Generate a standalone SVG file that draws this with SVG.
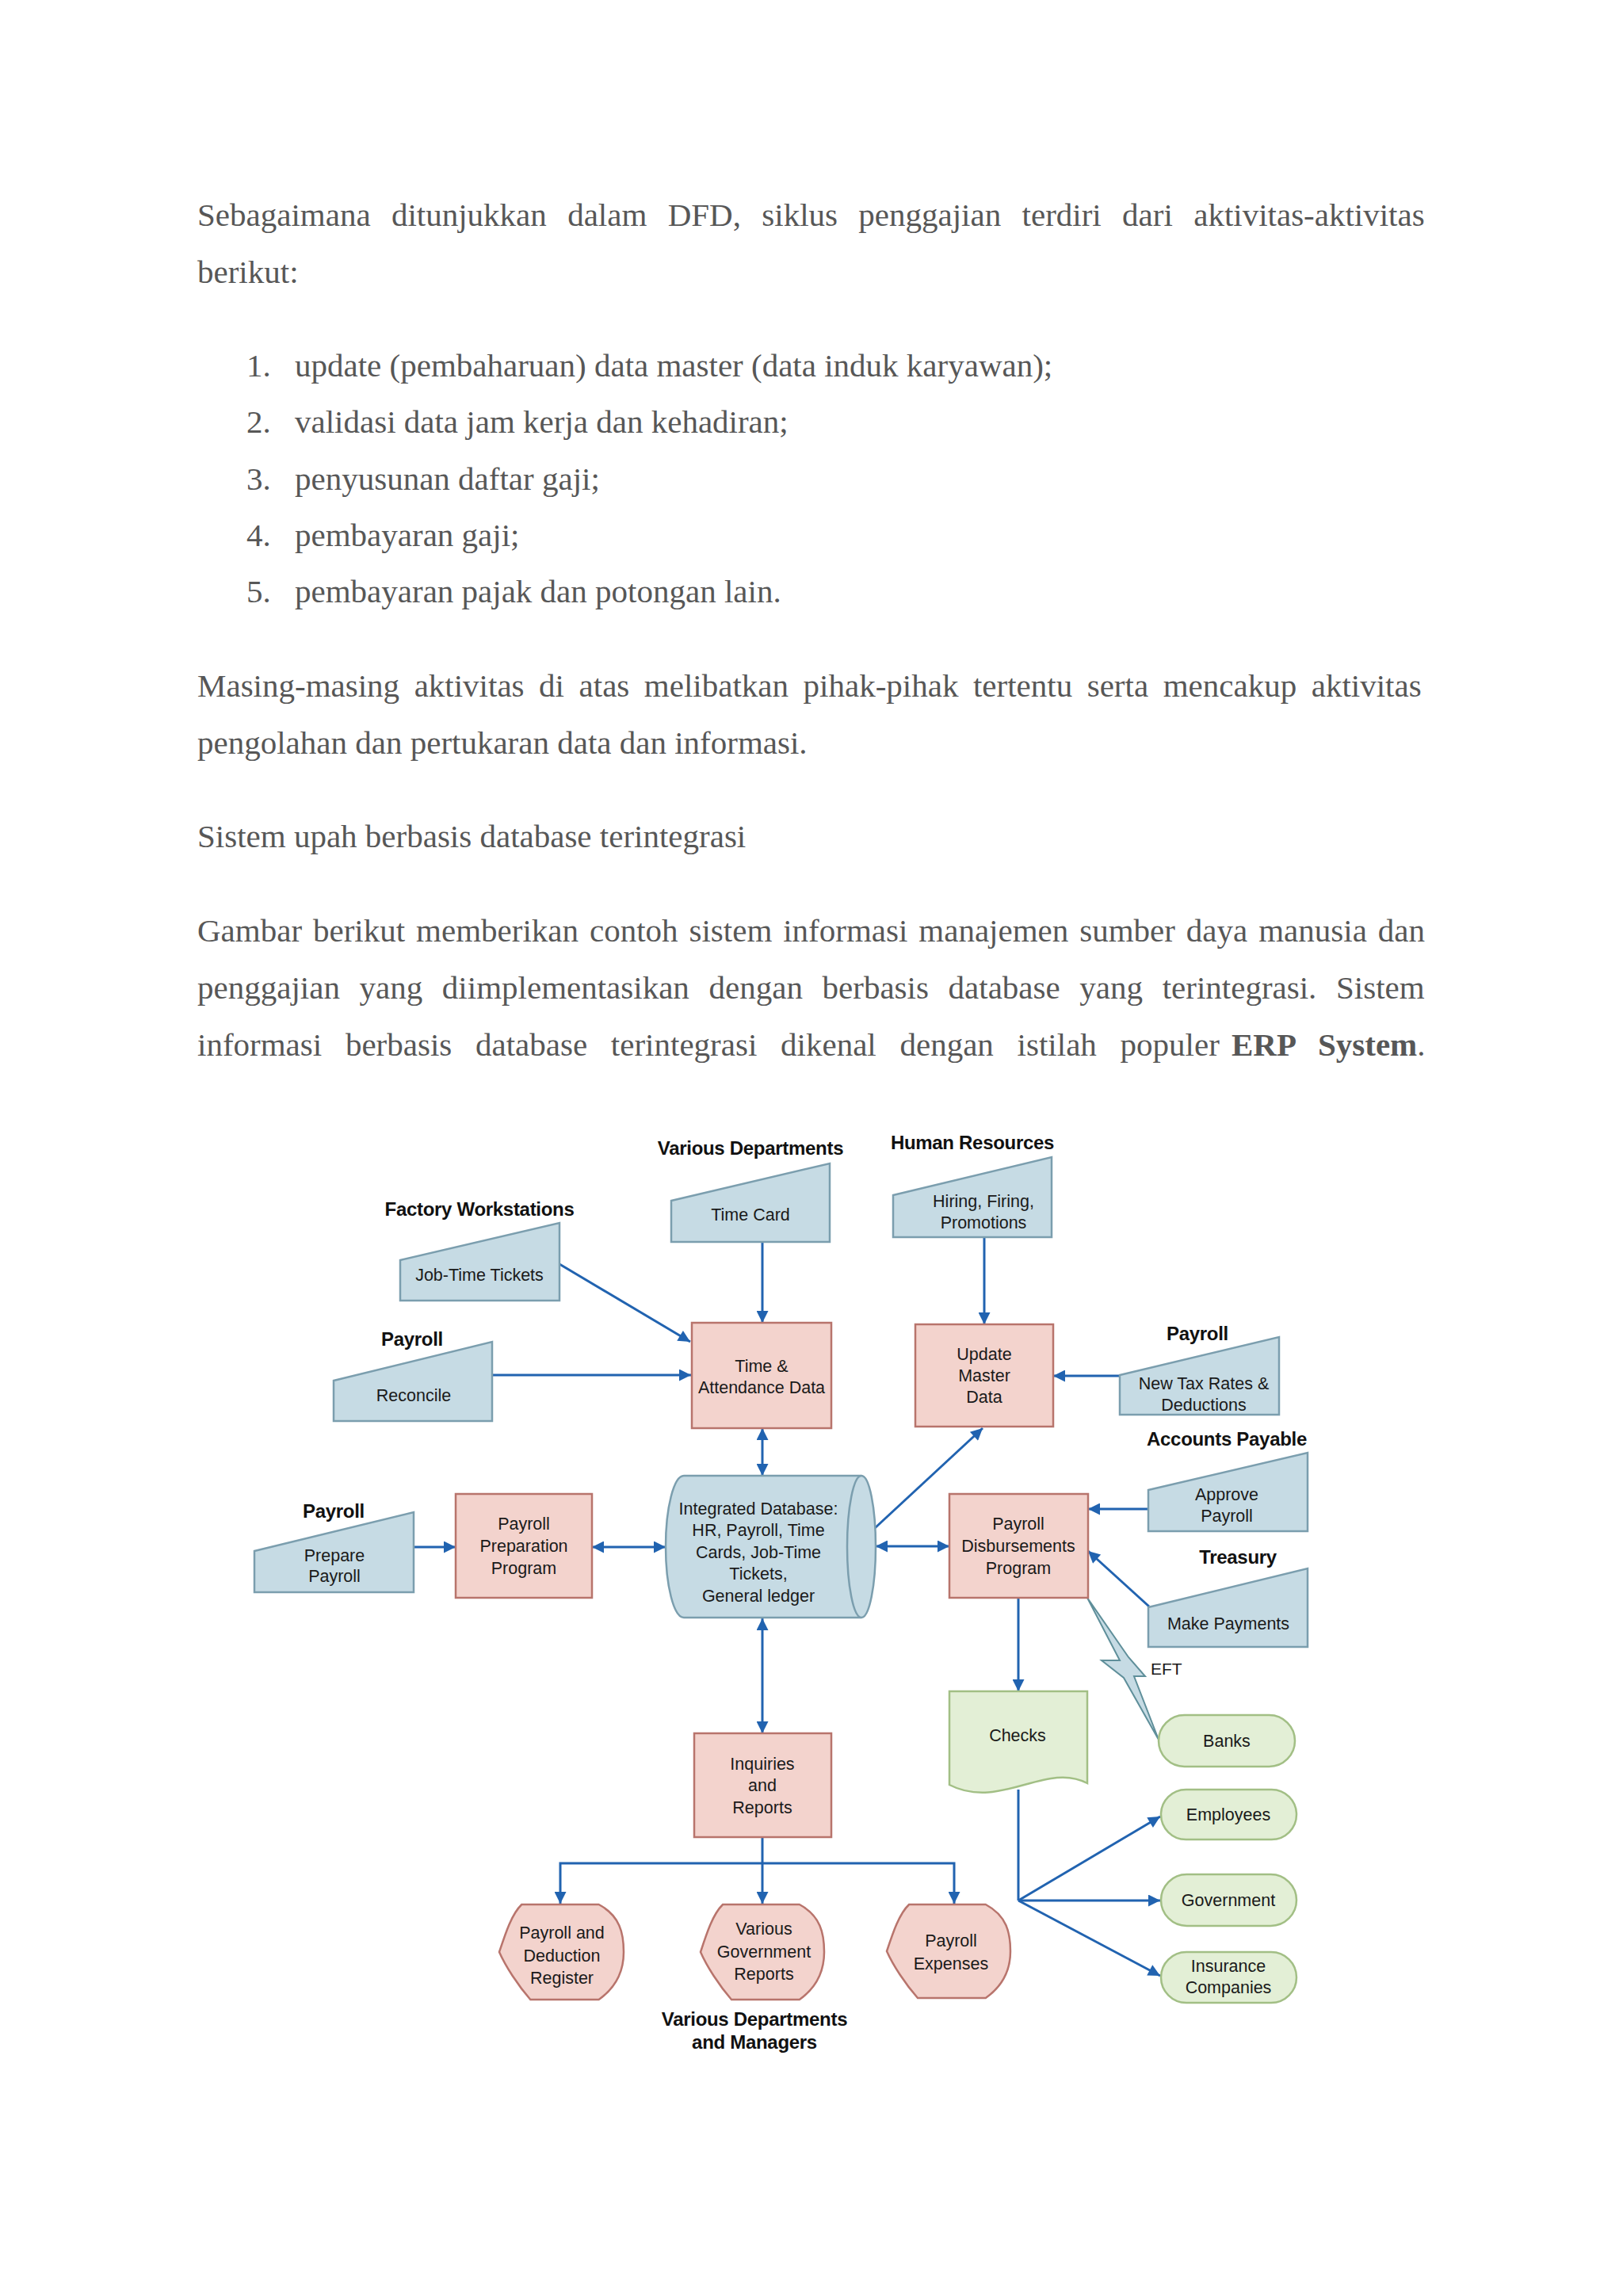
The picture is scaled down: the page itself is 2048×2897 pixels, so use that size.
<svg xmlns="http://www.w3.org/2000/svg" width="2048" height="2897" viewBox="0 0 2048 2897">
<style>
.p{font-family:"Liberation Serif","Times New Roman",serif;font-size:41px;fill:#575757}
.b{font-weight:bold}
.t{font-family:"Liberation Sans",Arial,sans-serif;font-size:21.5px;fill:#1a1a1a;text-anchor:middle}
.lb{font-family:"Liberation Sans",Arial,sans-serif;font-size:24px;font-weight:bold;fill:#111;text-anchor:middle;letter-spacing:-0.3px}
.inp{fill:#c6dbe4;stroke:#7b9eae;stroke-width:2.5}
.proc{fill:#f3d3cd;stroke:#b8746c;stroke-width:2.5}
.ent{fill:#e3efd6;stroke:#a2bf85;stroke-width:2.5}
.ln{fill:none;stroke:#2163b0;stroke-width:3}
.ar{marker-end:url(#ah)}
.ar2{marker-start:url(#ah);marker-end:url(#ah)}
</style>
<defs>
<marker id="ah" viewBox="0 0 10 10" refX="10" refY="5" markerWidth="18" markerHeight="15" markerUnits="userSpaceOnUse" orient="auto-start-reverse"><path d="M0,0 L10,5 L0,10 z" fill="#2163b0"/></marker>
</defs>
<rect width="2048" height="2897" fill="#ffffff"/>

<g id="text-body">
<text class="p" x="249" y="285" word-spacing="16.1">Sebagaimana ditunjukkan dalam DFD, siklus penggajian terdiri dari aktivitas-aktivitas</text>
<text class="p" x="249" y="357">berikut:</text>
<text class="p" x="311" y="475">1.</text><text class="p" x="372" y="475">update (pembaharuan) data master (data induk karyawan);</text>
<text class="p" x="311" y="546">2.</text><text class="p" x="372" y="546">validasi data jam kerja dan kehadiran;</text>
<text class="p" x="311" y="618">3.</text><text class="p" x="372" y="618">penyusunan daftar gaji;</text>
<text class="p" x="311" y="689">4.</text><text class="p" x="372" y="689">pembayaran gaji;</text>
<text class="p" x="311" y="760">5.</text><text class="p" x="372" y="760">pembayaran pajak dan potongan lain.</text>
<text class="p" x="249" y="879" word-spacing="8.3">Masing-masing aktivitas di atas melibatkan pihak-pihak tertentu serta mencakup aktivitas</text>
<text class="p" x="249" y="951">pengolahan dan pertukaran data dan informasi.</text>
<text class="p" x="249" y="1069">Sistem upah berbasis database terintegrasi</text>
<text class="p" x="249" y="1188" word-spacing="3.7">Gambar berikut memberikan contoh sistem informasi manajemen sumber daya manusia dan</text>
<text class="p" x="249" y="1260" word-spacing="14.4">penggajian yang diimplementasikan dengan berbasis database yang terintegrasi. Sistem</text>
<text class="p" x="249" y="1332"><tspan word-spacing="19.5">informasi berbasis database terintegrasi dikenal dengan istilah populer</tspan><tspan class="b" x="1554">ERP</tspan><tspan class="b" x="1663">System</tspan><tspan>.</tspan></text>
</g>

<g id="connectors">
<path class="ln ar" d="M706,1595 L871,1693"/>
<path class="ln ar" d="M962,1567 V1669"/>
<path class="ln ar" d="M621,1735 H872"/>
<path class="ln ar2" d="M962,1802 V1862"/>
<path class="ln ar" d="M522,1952 H575"/>
<path class="ln ar2" d="M747,1952 H840"/>
<path class="ln ar" d="M1104,1928 L1240,1802"/>
<path class="ln ar" d="M1242,1561 V1671"/>
<path class="ln ar" d="M1413,1736 H1329"/>
<path class="ln ar2" d="M1105,1951 H1198"/>
<path class="ln ar" d="M1449,1904 H1373"/>
<path class="ln ar" d="M1450,2027 L1373,1957"/>
<path class="ln ar" d="M1285,2016 V2134"/>
<path class="ln" d="M1285,2258 V2398"/>
<path class="ln ar" d="M1285,2398 L1464,2292"/>
<path class="ln ar" d="M1285,2398 H1464"/>
<path class="ln ar" d="M1285,2398 L1464,2493"/>
<path class="ln ar2" d="M962,2042 V2187"/>
<path class="ln ar" d="M962,2318 V2402"/>
<path class="ln ar2" d="M707,2402 V2351 H1204 V2402"/>
<polygon points="1372,2016 1424,2091 1445,2115 1431,2115 1462,2195 1418,2117 1390,2095 1413,2095" fill="#c6dbe4" stroke="#5f8f9a" stroke-width="2"/>
<text x="1452" y="2113" style="font-family:'Liberation Sans',Arial,sans-serif;font-size:21px;fill:#1a1a1a">EFT</text>
</g>

<g id="various-departments">
<text class="lb" x="947" y="1457">Various Departments</text>
<polygon class="inp" points="847,1515 1047,1468 1047,1567 847,1567"/>
<text class="t" x="947" y="1540">Time Card</text>
</g>
<g id="factory-workstations">
<text class="lb" x="605" y="1534">Factory Workstations</text>
<polygon class="inp" points="505,1590 706,1543 706,1641 505,1641"/>
<text class="t" x="605" y="1616">Job-Time Tickets</text>
</g>
<g id="payroll-reconcile">
<text class="lb" x="520" y="1698">Payroll</text>
<polygon class="inp" points="421,1742 621,1693 621,1793 421,1793"/>
<text class="t" x="522" y="1768">Reconcile</text>
</g>
<g id="payroll-prepare">
<text class="lb" x="421" y="1915">Payroll</text>
<polygon class="inp" points="321,1957 522,1908 522,2009 321,2009"/>
<text class="t" x="422" y="1970">Prepare</text>
<text class="t" x="422" y="1996">Payroll</text>
</g>
<g id="human-resources">
<text class="lb" x="1227" y="1450">Human Resources</text>
<polygon class="inp" points="1127,1508 1327,1460 1327,1561 1127,1561"/>
<text class="t" x="1241" y="1523">Hiring, Firing,</text>
<text class="t" x="1241" y="1550">Promotions</text>
</g>
<g id="payroll-tax">
<text class="lb" x="1511" y="1691">Payroll</text>
<polygon class="inp" points="1413,1735 1614,1687 1614,1785 1413,1785"/>
<text class="t" x="1519" y="1753">New Tax Rates &amp;</text>
<text class="t" x="1519" y="1780">Deductions</text>
</g>
<g id="accounts-payable">
<text class="lb" x="1548" y="1824">Accounts Payable</text>
<polygon class="inp" points="1449,1880 1650,1833 1650,1932 1449,1932"/>
<text class="t" x="1548" y="1893">Approve</text>
<text class="t" x="1548" y="1920">Payroll</text>
</g>
<g id="treasury">
<text class="lb" x="1562" y="1973">Treasury</text>
<polygon class="inp" points="1449,2028 1650,1979 1650,2078 1449,2078"/>
<text class="t" x="1550" y="2056">Make Payments</text>
</g>

<g id="time-attendance">
<rect class="proc" x="873" y="1669" width="176" height="133"/>
<text class="t" x="961" y="1731">Time &amp;</text>
<text class="t" x="961" y="1758">Attendance Data</text>
</g>
<g id="update-master">
<rect class="proc" x="1155" y="1671" width="174" height="129"/>
<text class="t" x="1242" y="1716">Update</text>
<text class="t" x="1242" y="1743">Master</text>
<text class="t" x="1242" y="1770">Data</text>
</g>
<g id="payroll-preparation">
<rect class="proc" x="575" y="1885" width="172" height="131"/>
<text class="t" x="661" y="1930">Payroll</text>
<text class="t" x="661" y="1958">Preparation</text>
<text class="t" x="661" y="1986">Program</text>
</g>
<g id="payroll-disbursements">
<rect class="proc" x="1198" y="1885" width="175" height="131"/>
<text class="t" x="1285" y="1930">Payroll</text>
<text class="t" x="1285" y="1958">Disbursements</text>
<text class="t" x="1285" y="1986">Program</text>
</g>
<g id="inquiries">
<rect class="proc" x="876" y="2187" width="173" height="131"/>
<text class="t" x="962" y="2233">Inquiries</text>
<text class="t" x="962" y="2260">and</text>
<text class="t" x="962" y="2288">Reports</text>
</g>

<g id="database">
<path class="inp" d="M863,1862 L1087,1862 A18,89.5 0 0 1 1087,2041 L863,2041 A23,89.5 0 0 1 863,1862 Z"/>
<path class="inp" d="M1087,1862 A18,89.5 0 0 0 1087,2041" fill="none"/>
<text class="t" x="957" y="1911">Integrated Database:</text>
<text class="t" x="957" y="1938">HR, Payroll, Time</text>
<text class="t" x="957" y="1966">Cards, Job-Time</text>
<text class="t" x="957" y="1993">Tickets,</text>
<text class="t" x="957" y="2021">General ledger</text>
</g>

<g id="checks">
<path class="ent" d="M1198,2134 L1372,2134 L1372,2250 C1320,2222 1262,2285 1198,2252 Z"/>
<text class="t" x="1284" y="2197">Checks</text>
</g>
<g id="banks">
<rect class="ent" x="1462" y="2164" width="172" height="65" rx="32.5"/>
<text class="t" x="1548" y="2204">Banks</text>
</g>
<g id="employees">
<rect class="ent" x="1465" y="2258" width="171" height="63" rx="31.5"/>
<text class="t" x="1550" y="2297">Employees</text>
</g>
<g id="government">
<rect class="ent" x="1465" y="2365" width="171" height="65" rx="32.5"/>
<text class="t" x="1550" y="2405">Government</text>
</g>
<g id="insurance">
<rect class="ent" x="1465" y="2463" width="171" height="64" rx="32"/>
<text class="t" x="1550" y="2488">Insurance</text>
<text class="t" x="1550" y="2515">Companies</text>
</g>

<g id="payroll-deduction-register">
<path class="proc" d="M658.3,2403 L755.6,2403 C782.3,2417.4 787,2439 787,2463 C787,2489.4 776,2508.6 755.6,2523 L669.3,2523 C653.6,2505 637.9,2481 630,2463 C637.9,2439 645.7,2415 658.3,2403 Z"/>
<text class="t" x="709" y="2446">Payroll and</text>
<text class="t" x="709" y="2475">Deduction</text>
<text class="t" x="709" y="2503">Register</text>
</g>
<g id="government-reports">
<path class="proc" d="M912.1,2403 L1008.8,2403 C1035.3,2417.4 1040,2439 1040,2463 C1040,2489.4 1029.1,2508.6 1008.8,2523 L923,2523 C907.4,2505 891.8,2481 884,2463 C891.8,2439 899.6,2415 912.1,2403 Z"/>
<text class="t" x="964" y="2441">Various</text>
<text class="t" x="964" y="2470">Government</text>
<text class="t" x="964" y="2498">Reports</text>
</g>
<g id="payroll-expenses">
<path class="proc" d="M1147.1,2403 L1243.8,2403 C1270.3,2417.2 1275,2438.4 1275,2462 C1275,2488 1264.1,2506.8 1243.8,2521 L1158,2521 C1142.4,2503.3 1126.8,2479.7 1119,2462 C1126.8,2438.4 1134.6,2414.8 1147.1,2403 Z"/>
<text class="t" x="1200" y="2456">Payroll</text>
<text class="t" x="1200" y="2485">Expenses</text>
</g>
<g id="departments-managers">
<text class="lb" x="952" y="2556">Various Departments</text>
<text class="lb" x="952" y="2585">and Managers</text>
</g>
</svg>
